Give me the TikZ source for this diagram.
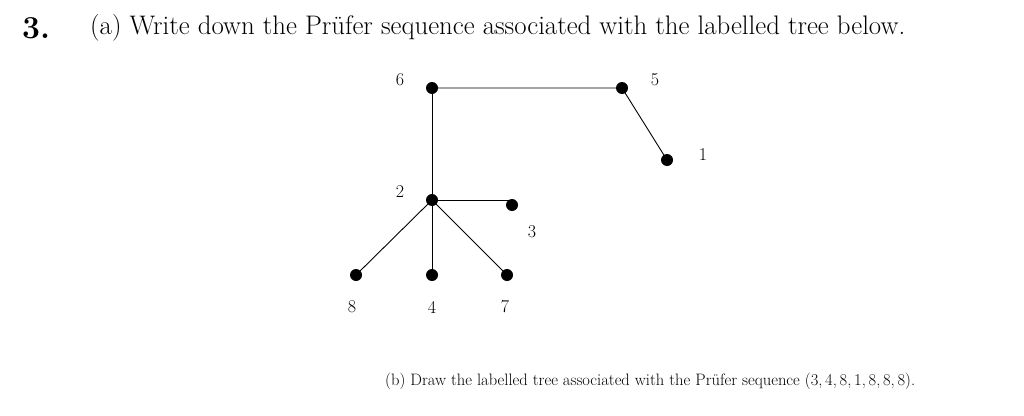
\documentclass[tikz,border=0pt]{standalone}
\usepackage{fontspec}
\usepackage{graphicx}
\begin{document}
\begin{tikzpicture}[x=1pt,y=-1pt,
  dot/.style={circle,fill=black,inner sep=0pt,minimum size=12pt},
  lab/.style={font=\fontsize{18}{20}\selectfont},
  big/.style={font=\fontsize{24}{28}\selectfont}]
\useasboundingbox (0,0) rectangle (1024,415);
\node[big,anchor=west,inner sep=0pt] (num) at (22,28) {\resizebox{28pt}{!}{\textbf{3.}}};
\node[big,anchor=west,inner sep=0pt] (qa) at (90,28) {\resizebox{815pt}{!}{(a) Write down the Prüfer sequence associated with the labelled tree below.}};
\node[big,anchor=west,inner sep=0pt] (qb) at (385,381) {\resizebox{530pt}{!}{(b) Draw the labelled tree associated with the Prüfer sequence (3,\,4,\,8,\,1,\,8,\,8,\,8).}};
\node[dot] (n6) at (432,88) {};
\node[dot] (n5) at (622,88) {};
\node[dot] (n1) at (667,160) {};
\node[dot] (n2) at (432,200) {};
\node[dot] (n3) at (512,205) {};
\node[dot] (n8) at (356,275) {};
\node[dot] (n4) at (432,275) {};
\node[dot] (n7) at (507,275) {};
\begin{scope}[line width=0.9pt]
\draw (n6.center) -- (n5.center) -- (n1.center);
\draw (n6.center) -- (n2.center);
\draw (n2.center) -- (n2.center -| n3.center) -- (n3.center);
\draw (n2.center) -- (n8.center);
\draw (n2.center) -- (n4.center);
\draw (n2.center) -- (n7.center);
\end{scope}
\node[lab] (l6) at (400,80) {6};
\node[lab] (l5) at (655,80) {5};
\node[lab] (l1) at (703,155) {1};
\node[lab] (l2) at (400,192) {2};
\node[lab] (l3) at (532,232) {3};
\node[lab] (l8) at (352,307) {8};
\node[lab] (l4) at (432,307) {4};
\node[lab] (l7) at (505,307) {7};
\end{tikzpicture}
\end{document}
